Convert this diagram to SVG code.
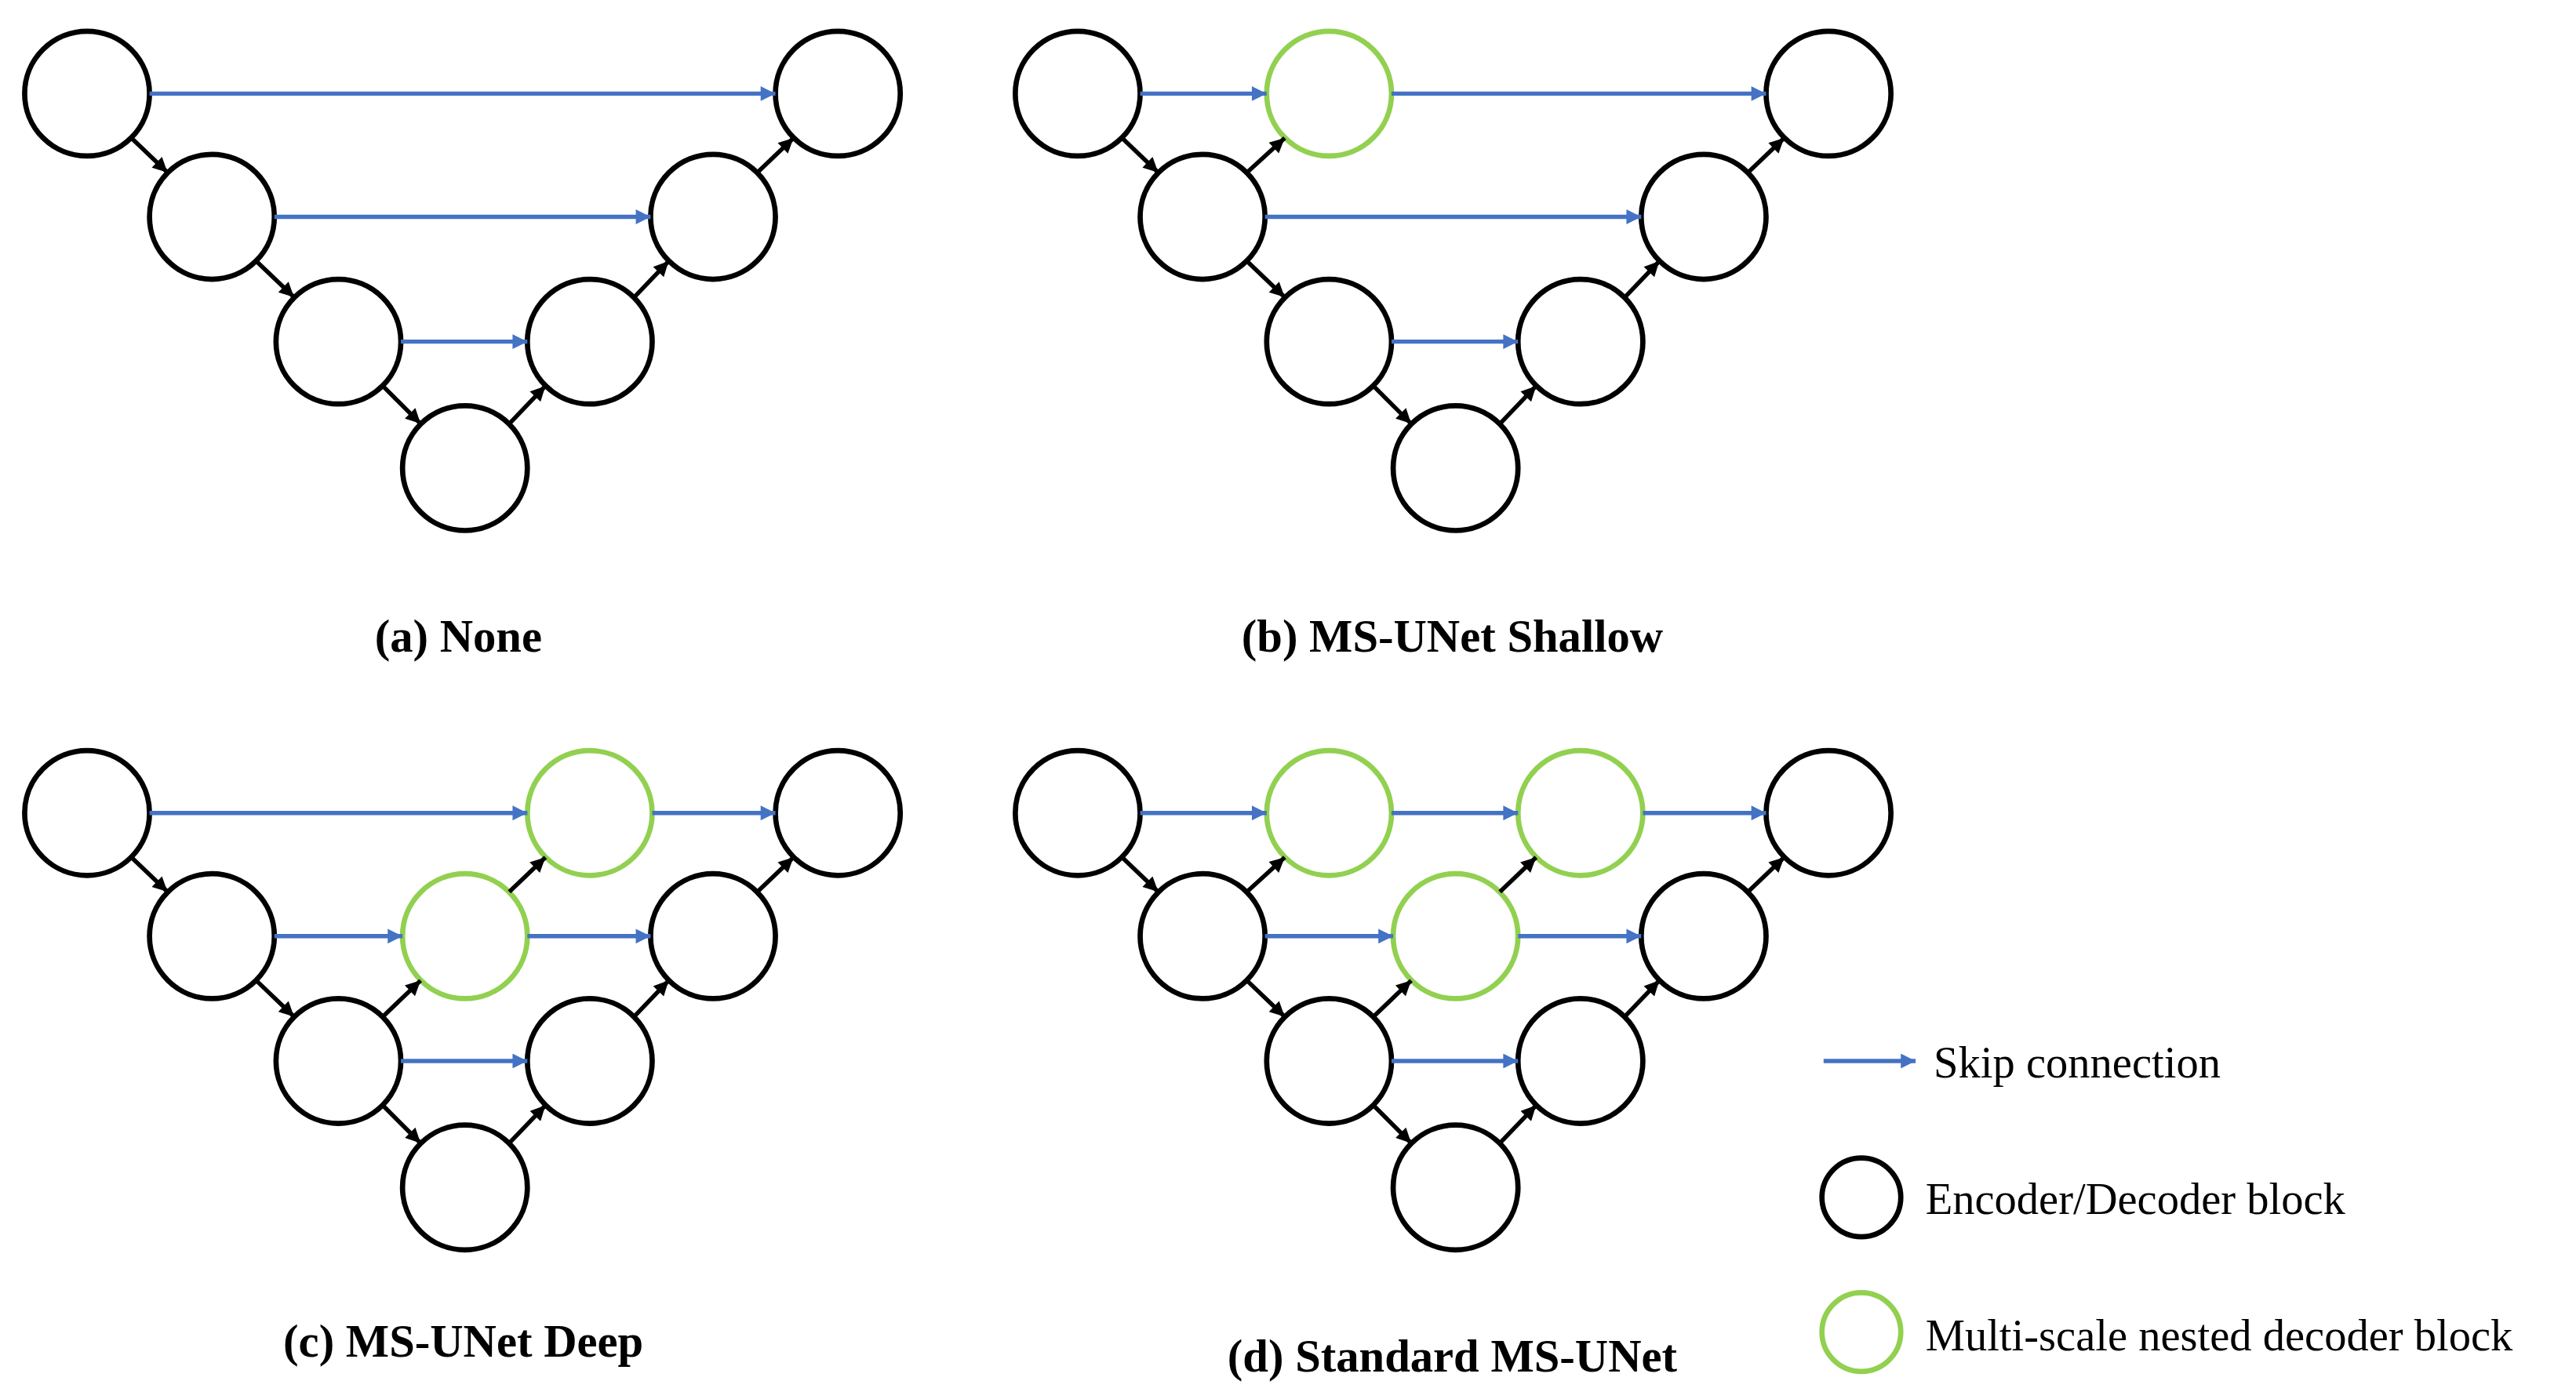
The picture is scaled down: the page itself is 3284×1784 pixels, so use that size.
<svg xmlns="http://www.w3.org/2000/svg" width="3284" height="1784" viewBox="0 0 3284 1784">
<style>
.n{fill:none;stroke:#000;stroke-width:3.2}
.g{fill:none;stroke:#92d050;stroke-width:3.2}
.s{stroke:#4472c4;stroke-width:2.6;marker-end:url(#bh)}
.k{stroke:#000;stroke-width:2.6;marker-end:url(#kh)}
.t{font-family:"Liberation Serif",serif;font-weight:bold;font-size:28px;text-anchor:middle}
.l{font-family:"Liberation Serif",serif;font-size:27px}
</style>
<defs>
<marker id="bh" markerUnits="userSpaceOnUse" viewBox="0 0 10 10" refX="10" refY="5" markerWidth="10" markerHeight="9" orient="auto"><path d="M0,0L10,5L0,10z" fill="#4472c4"/></marker>
<marker id="kh" markerUnits="userSpaceOnUse" viewBox="0 0 10 10" refX="10" refY="5" markerWidth="10" markerHeight="9" orient="auto"><path d="M0,0L10,5L0,10z" fill="#000"/></marker>
</defs>
<rect width="3284" height="1784" fill="#fff"/>
<g transform="scale(2.0944)">
<!-- panel a -->
<g id="panel-a">
<g id="a-nodes">
<g id="a-L0"><circle class="n" cx="53" cy="57" r="38"/></g>
<g id="a-L1"><circle class="n" cx="129" cy="132" r="38"/></g>
<g id="a-L2"><circle class="n" cx="206" cy="208" r="38"/></g>
<g id="a-B"><circle class="n" cx="283" cy="285" r="38"/></g>
<g id="a-R2"><circle class="n" cx="359" cy="208" r="38"/></g>
<g id="a-R1"><circle class="n" cx="434" cy="132" r="38"/></g>
<g id="a-R0"><circle class="n" cx="510" cy="57" r="38"/></g>
</g>
<g id="a-connectors">
<line class="s" x1="91" y1="57" x2="472" y2="57"/>
<line class="s" x1="167" y1="132" x2="396" y2="132"/>
<line class="s" x1="244" y1="208" x2="321" y2="208"/>
<line class="k" x1="80" y1="84" x2="102" y2="105"/>
<line class="k" x1="156" y1="159" x2="179" y2="181"/>
<line class="k" x1="233" y1="235" x2="256" y2="258"/>
<line class="k" x1="310" y1="258" x2="332" y2="235"/>
<line class="k" x1="386" y1="181" x2="407" y2="159"/>
<line class="k" x1="461" y1="105" x2="483" y2="84"/>
</g>
<text class="t" x="279" y="397">(a) None</text>
</g>
<!-- panel b -->
<g id="panel-b" transform="translate(603,0)">
<g id="b-nodes">
<g id="b-L0"><circle class="n" cx="53" cy="57" r="38"/></g>
<g id="b-L1"><circle class="n" cx="129" cy="132" r="38"/></g>
<g id="b-L2"><circle class="n" cx="206" cy="208" r="38"/></g>
<g id="b-B"><circle class="n" cx="283" cy="285" r="38"/></g>
<g id="b-R2"><circle class="n" cx="359" cy="208" r="38"/></g>
<g id="b-R1"><circle class="n" cx="434" cy="132" r="38"/></g>
<g id="b-R0"><circle class="n" cx="510" cy="57" r="38"/></g>
<g id="b-G"><circle class="g" cx="206" cy="57" r="38"/></g>
</g>
<g id="b-connectors">
<line class="s" x1="91" y1="57" x2="168" y2="57"/>
<line class="s" x1="244" y1="57" x2="472" y2="57"/>
<line class="s" x1="167" y1="132" x2="396" y2="132"/>
<line class="s" x1="244" y1="208" x2="321" y2="208"/>
<line class="k" x1="80" y1="84" x2="102" y2="105"/>
<line class="k" x1="156" y1="159" x2="179" y2="181"/>
<line class="k" x1="233" y1="235" x2="256" y2="258"/>
<line class="k" x1="310" y1="258" x2="332" y2="235"/>
<line class="k" x1="386" y1="181" x2="407" y2="159"/>
<line class="k" x1="461" y1="105" x2="483" y2="84"/>
<line class="k" x1="156" y1="105" x2="179" y2="84"/>
</g>
<text class="t" x="281" y="397">(b) MS-UNet Shallow</text>
</g>
<!-- panel c -->
<g id="panel-c" transform="translate(0,438)">
<g id="c-nodes">
<g id="c-L0"><circle class="n" cx="53" cy="57" r="38"/></g>
<g id="c-L1"><circle class="n" cx="129" cy="132" r="38"/></g>
<g id="c-L2"><circle class="n" cx="206" cy="208" r="38"/></g>
<g id="c-B"><circle class="n" cx="283" cy="285" r="38"/></g>
<g id="c-R2"><circle class="n" cx="359" cy="208" r="38"/></g>
<g id="c-R1"><circle class="n" cx="434" cy="132" r="38"/></g>
<g id="c-R0"><circle class="n" cx="510" cy="57" r="38"/></g>
<g id="c-G1"><circle class="g" cx="359" cy="57" r="38"/></g>
<g id="c-G2"><circle class="g" cx="283" cy="132" r="38"/></g>
</g>
<g id="c-connectors">
<line class="s" x1="91" y1="57" x2="321" y2="57"/>
<line class="s" x1="397" y1="57" x2="472" y2="57"/>
<line class="s" x1="167" y1="132" x2="245" y2="132"/>
<line class="s" x1="321" y1="132" x2="396" y2="132"/>
<line class="s" x1="244" y1="208" x2="321" y2="208"/>
<line class="k" x1="80" y1="84" x2="102" y2="105"/>
<line class="k" x1="156" y1="159" x2="179" y2="181"/>
<line class="k" x1="233" y1="235" x2="256" y2="258"/>
<line class="k" x1="310" y1="258" x2="332" y2="235"/>
<line class="k" x1="386" y1="181" x2="407" y2="159"/>
<line class="k" x1="461" y1="105" x2="483" y2="84"/>
<line class="k" x1="233" y1="181" x2="256" y2="159"/>
<line class="k" x1="310" y1="105" x2="332" y2="84"/>
</g>
<text class="t" x="282" y="388">(c) MS-UNet Deep</text>
</g>
<!-- panel d -->
<g id="panel-d" transform="translate(603,438)">
<g id="d-nodes">
<g id="d-L0"><circle class="n" cx="53" cy="57" r="38"/></g>
<g id="d-L1"><circle class="n" cx="129" cy="132" r="38"/></g>
<g id="d-L2"><circle class="n" cx="206" cy="208" r="38"/></g>
<g id="d-B"><circle class="n" cx="283" cy="285" r="38"/></g>
<g id="d-R2"><circle class="n" cx="359" cy="208" r="38"/></g>
<g id="d-R1"><circle class="n" cx="434" cy="132" r="38"/></g>
<g id="d-R0"><circle class="n" cx="510" cy="57" r="38"/></g>
<g id="d-Ga"><circle class="g" cx="206" cy="57" r="38"/></g>
<g id="d-Gb"><circle class="g" cx="359" cy="57" r="38"/></g>
<g id="d-Gc"><circle class="g" cx="283" cy="132" r="38"/></g>
</g>
<g id="d-connectors">
<line class="s" x1="91" y1="57" x2="168" y2="57"/>
<line class="s" x1="244" y1="57" x2="321" y2="57"/>
<line class="s" x1="397" y1="57" x2="472" y2="57"/>
<line class="s" x1="167" y1="132" x2="245" y2="132"/>
<line class="s" x1="321" y1="132" x2="396" y2="132"/>
<line class="s" x1="244" y1="208" x2="321" y2="208"/>
<line class="k" x1="80" y1="84" x2="102" y2="105"/>
<line class="k" x1="156" y1="159" x2="179" y2="181"/>
<line class="k" x1="233" y1="235" x2="256" y2="258"/>
<line class="k" x1="310" y1="258" x2="332" y2="235"/>
<line class="k" x1="386" y1="181" x2="407" y2="159"/>
<line class="k" x1="461" y1="105" x2="483" y2="84"/>
<line class="k" x1="156" y1="105" x2="179" y2="84"/>
<line class="k" x1="233" y1="181" x2="256" y2="159"/>
<line class="k" x1="310" y1="105" x2="332" y2="84"/>
</g>
<text class="t" x="281" y="397">(d) Standard MS-UNet</text>
</g>
<!-- legend -->
<g id="legend">
<line class="s" x1="1110" y1="646" x2="1166" y2="646"/>
<text class="l" x="1177" y="656">Skip connection</text>
<g id="legend-black"><circle class="n" cx="1133" cy="729" r="24"/></g>
<text class="l" x="1172" y="739">Encoder/Decoder block</text>
<g id="legend-green"><circle class="g" cx="1133" cy="811" r="24"/></g>
<text class="l" x="1172" y="822">Multi-scale nested decoder block</text>
</g>
</g>
</svg>
